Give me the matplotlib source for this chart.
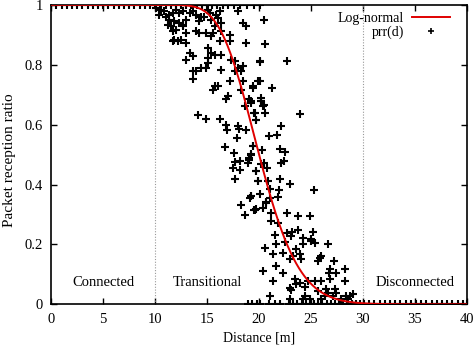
import matplotlib
matplotlib.use("Agg")
import matplotlib.pyplot as plt
import numpy as np
from math import erf, log, sqrt

plt.rcParams['font.family'] = ['Liberation Serif', 'DejaVu Serif']

top_x = [0, 0.5, 1, 1.5, 2, 2.5, 3, 3.5, 4, 4.5, 5, 5.5, 6, 6.5, 7, 7.5, 8, 8.5,
         9, 9.5, 10, 10.5, 11, 11.5, 12, 12.5, 13, 13.5, 14, 14.5, 15, 15.5, 16,
         16.5, 17, 17.6, 18.2, 18.8, 19.5, 20.1]
bottom_x = [18.9, 19.3, 19.8, 20.1, 21.0, 21.5, 22.0, 22.9, 23.3, 23.7, 24.1,
            24.5, 24.9, 25.3, 25.7, 26.1, 26.5, 26.9, 27.3, 27.7, 28.1, 28.5,
            28.9, 29.3, 29.7, 30.1, 30.6, 31.1, 31.6, 32.1, 32.6, 33.1, 33.6,
            34.1, 34.6, 35.1, 35.6, 36.1, 36.6, 37.1, 37.6, 38.1, 38.6, 39.1,
            39.6, 40.0]
mid_x = [10.09, 10.58, 10.90, 10.41, 11.06, 11.38, 11.70, 12.02, 12.34, 12.67,
         11.38, 11.86, 12.34, 12.67, 12.99, 11.22, 11.54, 12.02, 11.70, 12.99,
         12.67, 13.31, 13.63, 13.95, 14.43, 14.27, 14.75, 15.24, 15.08, 15.40,
         15.88, 16.20, 16.04, 16.36, 15.72, 17.97, 18.45, 18.77, 13.95, 14.27,
         14.92, 15.56, 16.36, 17.17, 11.86, 12.18, 12.50, 12.99, 11.70, 15.40,
         16.20, 17.17, 18.77, 13.31, 13.63, 12.99, 15.08, 15.40, 15.72, 15.08,
         15.08, 14.92, 14.43, 13.95, 13.63, 16.36, 17.33, 17.65, 17.97, 18.45,
         16.36, 17.65, 18.29, 13.63, 17.17, 18.45, 15.72, 16.04, 15.56, 18.29,
         19.42, 17.01, 16.85, 18.61, 20.06, 20.06,
         14.11, 14.85, 16.27, 16.84, 16.91, 17.97, 18.07, 18.77, 17.87, 16.68,
         17.55, 19.42, 19.26, 17.65, 18.13, 19.03, 18.93, 17.49, 18.13, 17.65,
         19.26, 19.10, 18.29, 19.74, 19.74, 19.58, 19.26, 19.74, 19.90, 20.06,
         18.61, 19.58,
         20.46, 20.59, 20.05, 22.68, 19.88, 19.40, 21.26, 19.08, 20.20, 20.20,
         20.43,
         19.24, 20.20, 20.37, 19.56, 20.62, 19.72, 23.96, 22.07, 20.94, 21.71,
         19.40, 19.24, 19.08, 20.27, 22.04, 22.49, 22.13, 22.39, 20.20, 20.46,
         20.75, 19.72, 19.88, 20.85, 21.97, 23.00, 25.25, 21.01, 21.91, 21.81,
         21.10, 19.24, 20.69, 20.37,
         19.56, 20.69, 21.17, 21.17, 21.81, 22.71, 23.74, 24.86, 21.49, 20.53,
         21.33, 21.65, 22.45, 22.68, 23.19, 23.74, 23.10, 24.22, 25.18, 25.02,
         25.35, 25.02, 26.63, 24.22, 23.51, 22.29, 23.90, 23.26, 22.94, 24.06,
         25.83, 26.00, 25.67, 21.65, 22.29, 20.37, 23.42, 23.58, 22.94, 23.10,
         23.90, 24.38, 24.70, 25.35, 26.00, 26.79, 26.70, 27.44, 28.24, 26.86,
         28.24, 27.18, 21.33, 21.01, 24.38, 24.22, 24.86, 25.67, 26.47, 26.63,
         27.28, 27.44, 26.31, 27.12, 28.40, 28.72, 29.04, 28.56, 25.99, 22.94,
         27.92]
mid_y = [0.989, 0.984, 0.978, 0.967, 0.961, 0.967, 0.973, 0.984, 0.973, 0.978,
         0.950, 0.945, 0.939, 0.934, 0.950, 0.934, 0.928, 0.917, 0.912, 0.906,
         0.928, 0.973, 0.978, 0.967, 0.961, 0.945, 0.961, 0.973, 0.984, 0.950,
         0.967, 0.978, 0.956, 0.939, 0.928, 0.978, 0.939, 0.928, 0.912, 0.906,
         0.906, 0.906, 0.912, 0.900, 0.884, 0.878, 0.884, 0.873, 0.878, 0.895,
         0.878, 0.878, 0.873, 0.839, 0.828, 0.817, 0.856, 0.839, 0.834, 0.823,
         0.806, 0.789, 0.789, 0.778, 0.778, 0.834, 0.817, 0.812, 0.789, 0.795,
         0.784, 0.778, 0.778, 0.751, 0.745, 0.745, 0.728, 0.728, 0.717, 0.717,
         0.728, 0.695, 0.684, 0.662, 0.745, 0.812,
         0.633, 0.619, 0.619, 0.600, 0.581, 0.596, 0.585, 0.583, 0.555, 0.525,
         0.505, 0.528, 0.500, 0.474, 0.480, 0.483, 0.472, 0.455, 0.450, 0.417,
         0.361, 0.356, 0.330, 0.444, 0.616, 0.639, 0.672, 0.317, 0.411, 0.367,
         0.297, 0.314,
         0.950, 0.869, 0.808, 0.812, 0.745, 0.723, 0.723, 0.684, 0.690, 0.678,
         0.667,
         0.678, 0.678, 0.663, 0.639, 0.639, 0.616, 0.635, 0.596, 0.563, 0.566,
         0.530, 0.503, 0.489, 0.516, 0.519, 0.508, 0.472, 0.478, 0.467, 0.472,
         0.455, 0.444, 0.411, 0.413, 0.417, 0.403, 0.383, 0.385, 0.381, 0.359,
         0.356, 0.361, 0.341, 0.322,
         0.314, 0.337, 0.306, 0.278, 0.270, 0.306, 0.294, 0.294, 0.233, 0.189,
         0.167, 0.202, 0.208, 0.239, 0.241, 0.247, 0.228, 0.222, 0.241, 0.217,
         0.206, 0.211, 0.202, 0.200, 0.183, 0.172, 0.167, 0.161, 0.150, 0.150,
         0.156, 0.161, 0.145, 0.128, 0.106, 0.111, 0.084, 0.067, 0.056, 0.048,
         0.072, 0.059, 0.078, 0.078, 0.078, 0.117, 0.104, 0.106, 0.119, 0.086,
         0.078, 0.145, 0.078, 0.028, 0.028, 0.017, 0.017, 0.045, 0.050, 0.037,
         0.050, 0.039, 0.028, 0.028, 0.028, 0.028, 0.034, 0.017, 0.017, 0.019,
         0.019]

# log-normal fit parameters
median_d = 20.0
sigma = 0.15

px = top_x + mid_x + bottom_x
py = [1.0] * len(top_x) + mid_y + [0.0] * len(bottom_x)

d = np.linspace(0.01, 40, 600)
prr_fit = [0.5 * (1 - erf((log(v / median_d)) / (sigma * sqrt(2)))) for v in d]

fig = plt.figure(figsize=(4.74, 3.45), dpi=100)
ax = fig.add_axes([0.108, 0.118, 0.877, 0.868])

ax.axvline(10, color='#999999', lw=0.8, ls=(0, (1, 1.5)))
ax.axvline(30, color='#999999', lw=0.8, ls=(0, (1, 1.5)))

ax.plot(d, prr_fit, color='#e00000', lw=1.4, label='Log-normal', zorder=3)
ax.plot(px, py, ls='none', marker='+', ms=5.5, mew=1.5, color='black',
        label='prr(d)', zorder=2)

ax.text(5, 0.06, 'Connected', ha='center', fontsize=10.5)
ax.text(15, 0.06, 'Transitional', ha='center', fontsize=10.5)
ax.text(35, 0.06, 'Disconnected', ha='center', fontsize=10.5)

ax.set_xlim(0, 40)
ax.set_ylim(0, 1)
ax.set_xticks([0, 5, 10, 15, 20, 25, 30, 35, 40])
ax.set_yticks([0, 0.2, 0.4, 0.6, 0.8, 1])
ax.set_yticklabels(['0', '0.2', '0.4', '0.6', '0.8', '1'])
ax.tick_params(direction='in', top=True, right=True, length=4, width=1,
               labelsize=10.5, pad=6)
for s in ax.spines.values():
    s.set_linewidth(1.2)
ax.set_xlabel('Distance [m]', fontsize=10)
ax.set_ylabel('Packet reception ratio', fontsize=11)
ax.yaxis.set_label_coords(-0.084, 0.48)

leg = ax.legend(loc='upper right', bbox_to_anchor=(0.959, 0.977), frameon=False,
                markerfirst=False, fontsize=10, handlelength=2.7,
                handletextpad=0.6, borderaxespad=0, borderpad=0,
                labelspacing=0.05)
leg.legend_handles[1].set_markersize(4)
leg.legend_handles[1].set_markeredgewidth(1.2)

fig.savefig('out.png', dpi=100)
